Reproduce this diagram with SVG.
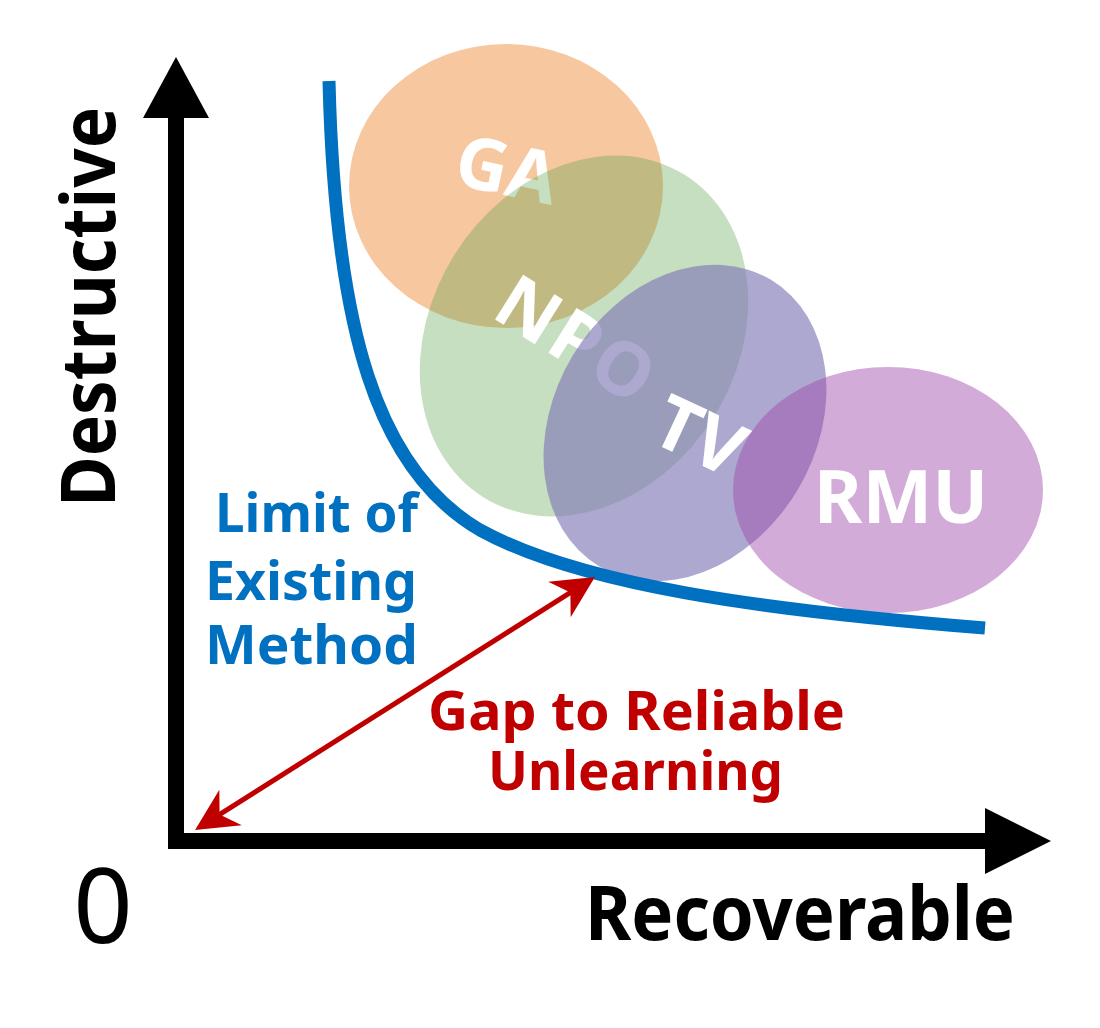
<svg xmlns="http://www.w3.org/2000/svg" width="1100" height="1028" viewBox="0 0 1100 1028">
  <style>
    .lbl { font-family: "Noto Sans", "Open Sans", "Liberation Sans", sans-serif; font-weight: bold; }
    .inner { fill: #ffffff; text-anchor: middle; }
    .blue { fill: #0070C0; font-size: 54px; }
    .red { fill: #C00000; font-size: 53px; }
    .axis { font-size: 76px; fill: #000000; }
  </style>
  <defs>
    <marker id="redhead" markerUnits="userSpaceOnUse" viewBox="-45 -25 50 50" markerWidth="50" markerHeight="50" refX="-25" refY="0" orient="auto-start-reverse">
      <path d="M0,0 L-42,-21 L-29,0 L-42,21 Z" fill="#C00000"/>
    </marker>
  </defs>
  <rect width="1100" height="1028" fill="#ffffff"/>

  <g id="node-GA">
    <ellipse cx="506" cy="186" rx="157" ry="142" fill="#F7C7A0"/>
    <text class="lbl inner" font-size="72" transform="translate(507,169) rotate(12)" x="0" y="26">GA</text>
  </g>
  <g id="node-NPO">
    <ellipse cx="584" cy="336" rx="153" ry="190" transform="rotate(32 584 336)" fill="#59A44B" fill-opacity="0.35"/>
    <text class="lbl inner" font-size="74" letter-spacing="3" transform="translate(577,340) rotate(32)" x="0" y="26">NPO</text>
  </g>
  <g id="node-TV">
    <ellipse cx="685" cy="423" rx="131" ry="167" transform="rotate(31 685 423)" fill="#8179B7" fill-opacity="0.65"/>
    <text class="lbl inner" font-size="74" transform="translate(700,436) rotate(25)" x="0" y="26">TV</text>
  </g>
  <g id="node-RMU">
    <ellipse cx="888" cy="490" rx="155" ry="123" fill="#9F48AA" fill-opacity="0.46"/>
    <text class="lbl inner" font-size="74" x="901" y="523">RMU</text>
  </g>

  <g id="connectors">
    <path id="limit-curve" d="M329,81 C335,330 377,470 480,530 C580,585 760,610 985,628" fill="none" stroke="#0070C0" stroke-width="13"/>
    <line id="gap-arrow" x1="216.2" y1="816.6" x2="573.8" y2="590.4" stroke="#C00000" stroke-width="5" marker-start="url(#redhead)" marker-end="url(#redhead)"/>
    <path id="axes" d="M176,117 V841 H986" fill="none" stroke="#000000" stroke-width="16" stroke-linejoin="miter"/>
    <polygon points="176,57 209,118 143,118" fill="#000000"/>
    <polygon points="1051,841 985,808 985,874" fill="#000000"/>
  </g>

  <g id="labels">
    <text class="lbl axis" transform="translate(115,507) rotate(-90)" x="0" y="0" textLength="400" lengthAdjust="spacingAndGlyphs">Destructive</text>
    <text class="lbl axis" x="585" y="940" font-size="78" textLength="430" lengthAdjust="spacingAndGlyphs">Recoverable</text>
    <text x="103" y="943" font-family="Noto Sans, Open Sans, Liberation Sans, sans-serif" font-size="104" text-anchor="middle" fill="#000000">0</text>
    <text class="lbl blue" x="215" y="532" textLength="203" lengthAdjust="spacingAndGlyphs">Limit of</text>
    <text class="lbl blue" x="205" y="600" textLength="212" lengthAdjust="spacingAndGlyphs">Existing</text>
    <text class="lbl blue" x="205" y="664" textLength="213" lengthAdjust="spacingAndGlyphs">Method</text>
    <text class="lbl red" x="428" y="730" textLength="417" lengthAdjust="spacingAndGlyphs">Gap to Reliable</text>
    <text class="lbl red" x="488" y="790" textLength="295" lengthAdjust="spacingAndGlyphs">Unlearning</text>
  </g>
</svg>
